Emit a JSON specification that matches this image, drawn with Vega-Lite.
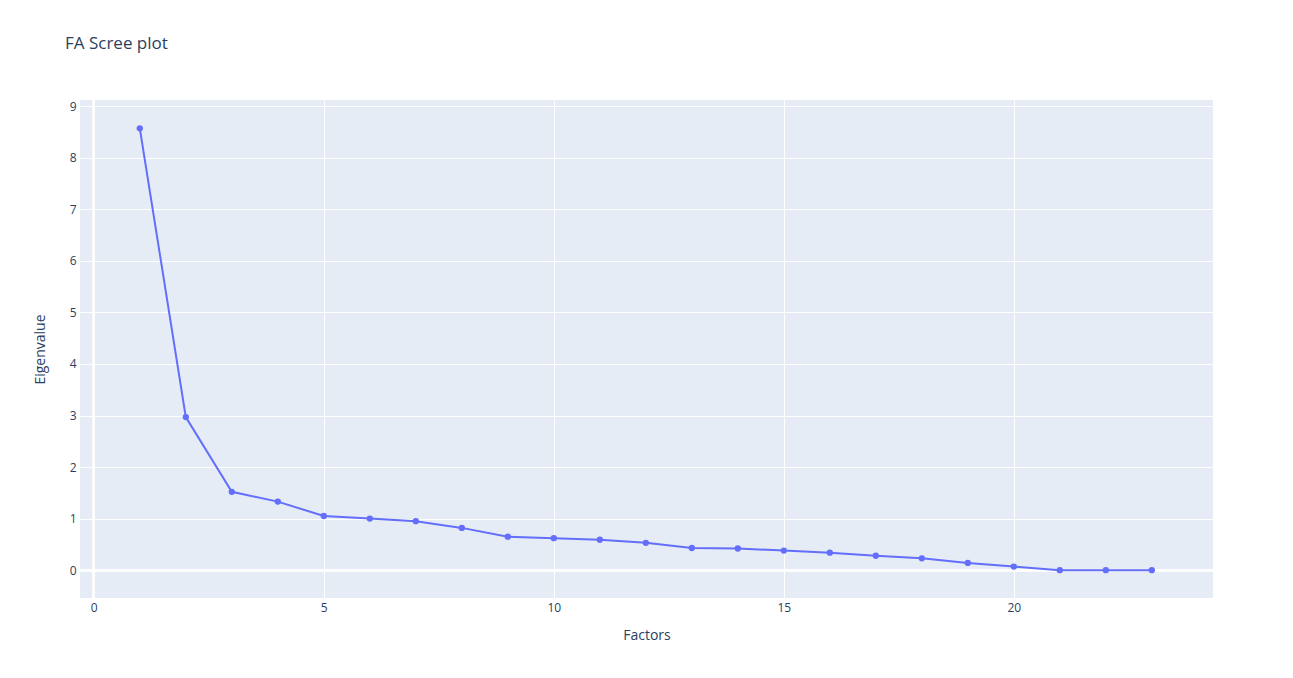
{
  "$schema": "https://vega.github.io/schema/vega-lite/v6.json",
  "width": 1133,
  "height": 498,
  "autosize": {"type": "none"},
  "padding": {"left": 80, "top": 100, "right": 80, "bottom": 80},
  "background": "white",
  "title": {
    "text": "FA Scree plot",
    "anchor": "start",
    "frame": "group",
    "dx": -15,
    "offset": 46,
    "fontSize": 17,
    "fontWeight": "normal",
    "font": "Open Sans",
    "color": "#2a3f5f"
  },
  "data": {
    "values": [
      {"factor": 1, "eigenvalue": 8.57},
      {"factor": 2, "eigenvalue": 2.97},
      {"factor": 3, "eigenvalue": 1.52},
      {"factor": 4, "eigenvalue": 1.33},
      {"factor": 5, "eigenvalue": 1.05},
      {"factor": 6, "eigenvalue": 1.00},
      {"factor": 7, "eigenvalue": 0.95},
      {"factor": 8, "eigenvalue": 0.82},
      {"factor": 9, "eigenvalue": 0.65},
      {"factor": 10, "eigenvalue": 0.62},
      {"factor": 11, "eigenvalue": 0.59},
      {"factor": 12, "eigenvalue": 0.53},
      {"factor": 13, "eigenvalue": 0.43},
      {"factor": 14, "eigenvalue": 0.42},
      {"factor": 15, "eigenvalue": 0.38},
      {"factor": 16, "eigenvalue": 0.34},
      {"factor": 17, "eigenvalue": 0.28},
      {"factor": 18, "eigenvalue": 0.23},
      {"factor": 19, "eigenvalue": 0.14},
      {"factor": 20, "eigenvalue": 0.07},
      {"factor": 21, "eigenvalue": 0.0},
      {"factor": 22, "eigenvalue": 0.0},
      {"factor": 23, "eigenvalue": 0.0}
    ]
  },
  "layer": [
    {
      "mark": {"type": "rule", "color": "white", "strokeWidth": 2},
      "encoding": {"y": {"datum": 0, "type": "quantitative"}}
    },
    {
      "mark": {"type": "rule", "color": "white", "strokeWidth": 2},
      "encoding": {"x": {"datum": 0, "type": "quantitative"}}
    },
    {
      "mark": {
        "type": "line",
        "color": "#636efa",
        "strokeWidth": 2,
        "point": {"filled": true, "size": 40, "color": "#636efa", "opacity": 1}
      },
      "encoding": {
        "x": {
          "field": "factor",
          "type": "quantitative",
          "title": "Factors",
          "scale": {"domain": [-0.3, 24.33], "nice": false, "zero": false},
          "axis": {"values": [0, 5, 10, 15, 20], "labelPadding": 4, "titlePadding": 15}
        },
        "y": {
          "field": "eigenvalue",
          "type": "quantitative",
          "title": "Eigenvalue",
          "scale": {"domain": [-0.54, 9.12], "nice": false, "zero": false},
          "axis": {"values": [0, 1, 2, 3, 4, 5, 6, 7, 8, 9], "labelPadding": 4, "titlePadding": 22}
        }
      }
    }
  ],
  "config": {
    "view": {"fill": "#E5ECF6", "stroke": null},
    "font": "Open Sans",
    "axis": {
      "domain": false,
      "ticks": false,
      "grid": true,
      "gridColor": "white",
      "gridWidth": 1,
      "labelFont": "Open Sans",
      "labelFontSize": 12,
      "labelColor": "#2a3f5f",
      "titleFont": "Open Sans",
      "titleFontSize": 14,
      "titleFontWeight": "normal",
      "titleColor": "#2a3f5f"
    }
  }
}
